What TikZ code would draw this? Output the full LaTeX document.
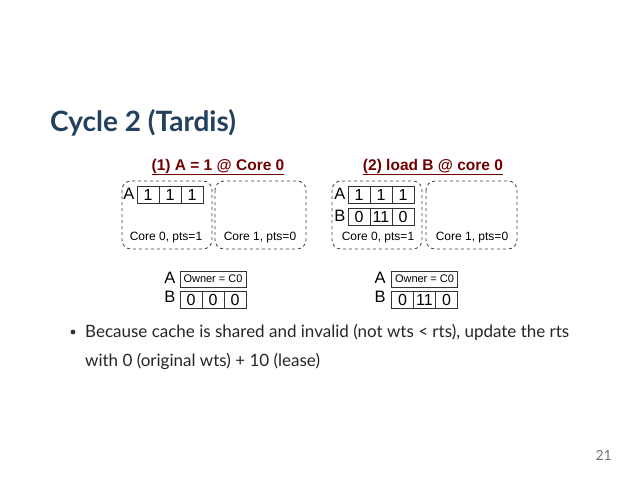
\documentclass[tikz,border=0pt]{standalone}
\usepackage{fontspec}
\setmainfont{Lato}
\newfontfamily\arial{Liberation Sans}
\definecolor{ttlblue}{HTML}{24405F}
\begin{document}
\begin{tikzpicture}[x=1pt,y=-1pt,
  core/.style={draw=black!75,dashed,rounded corners=9pt,line width=0.8pt},
  cell/.style={draw=black!80,line width=0.7pt,minimum width=22pt,minimum height=17pt,inner sep=0pt,font=\arial\fontsize{16}{16}\selectfont},
  own/.style={draw=black!80,line width=0.7pt,minimum width=66pt,minimum height=16pt,inner sep=0pt,font=\arial\fontsize{11}{11}\selectfont},
  lab/.style={font=\arial\fontsize{16.5}{16.5}\selectfont,inner sep=0pt},
  clab/.style={font=\arial\fontsize{12}{12}\selectfont,inner sep=0pt},
  ttl/.style={font=\arial\bfseries\fontsize{15.5}{15.5}\selectfont,text=red!45!black,inner sep=1pt}]
\useasboundingbox[fill=white] (0,0) rectangle (638,479);
\node[anchor=west,inner sep=0pt,font=\fontsize{28}{28}\selectfont\bfseries,text=ttlblue] (title) at (50,123) {Cycle 2 (Tardis)};
% panel 1
\node[ttl] (t1) at (218,167) {\underline{(1) A = 1 @ Core 0}};
\draw[core] (122,181) rectangle (212,249);
\draw[core] (215,181) rectangle (306,249);
\node[lab] (a1) at (129,194) {A};
\node[cell] (c11) at (148,194.5) {1};
\node[cell] (c12) at (170,194.5) {1};
\node[cell] (c13) at (192,194.5) {1};
\node[clab] (k10) at (166,238) {Core 0, pts=1};
\node[clab] (k11) at (260,238) {Core 1, pts=0};
\node[lab] (ma1) at (170,278) {A};
\node[own] (o1) at (213,279) {Owner = C0};
\node[lab] (mb1) at (170,297) {B};
\node[cell] (m11) at (191,300) {0};
\node[cell] (m12) at (213,300) {0};
\node[cell] (m13) at (235,300) {0};
% panel 2
\node[ttl] (t2) at (433,167) {\underline{(2) load B @ core 0}};
\draw[core] (332,181) rectangle (422,249);
\draw[core] (426,181) rectangle (517,249);
\node[lab] (a2) at (340,194) {A};
\node[cell] (d11) at (359,194.5) {1};
\node[cell] (d12) at (381,194.5) {1};
\node[cell] (d13) at (403,194.5) {1};
\node[lab] (b2) at (340,216) {B};
\node[cell] (d21) at (359,216.5) {0};
\node[cell] (d22) at (381,216.5) {11};
\node[cell] (d23) at (403,216.5) {0};
\node[clab] (k20) at (378,238) {Core 0, pts=1};
\node[clab] (k21) at (472,238) {Core 1, pts=0};
\node[lab] (ma2) at (380,278) {A};
\node[own] (o2) at (424.5,279) {Owner = C0};
\node[lab] (mb2) at (380,297) {B};
\node[cell] (n11) at (402.5,300) {0};
\node[cell] (n12) at (424.5,300) {11};
\node[cell] (n13) at (446.5,300) {0};
% bullet
\fill[black!80] (73,332) circle (2.4pt);
\node[anchor=west,inner sep=0pt,font=\fontsize{17}{17}\selectfont,text=black!85] (l1) at (85,332) {Because cache is shared and invalid (not wts < rts), update the rts};
\node[anchor=west,inner sep=0pt,font=\fontsize{17}{17}\selectfont,text=black!85] (l2) at (85,361) {with 0 (original wts) + 10 (lease)};
\node[anchor=east,inner sep=0pt,font=\fontsize{14}{14}\selectfont,text=black!55] (pg) at (612,455) {21};
\end{tikzpicture}
\end{document}
